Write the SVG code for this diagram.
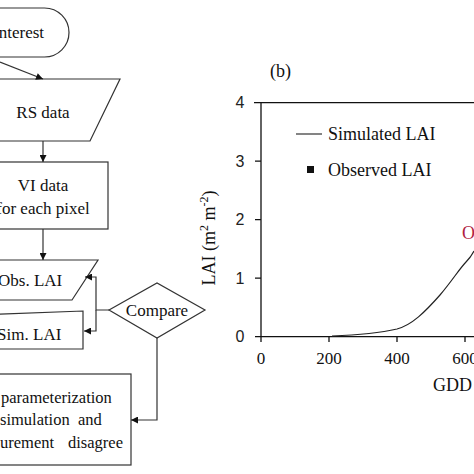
<svg xmlns="http://www.w3.org/2000/svg" width="474" height="474" viewBox="0 0 474 474">
<defs>
<style>
.sh{fill:#fff;stroke:#333;stroke-width:1.2}
.ln{fill:none;stroke:#333;stroke-width:1.2}
.t{font-family:"Liberation Serif","Times New Roman",serif;font-size:17px;fill:#111}
.ax{fill:none;stroke:#111;stroke-width:1.3}
.tk{font-family:"Liberation Sans",Arial,sans-serif;font-size:16px;fill:#222}
</style>
<marker id="ah" viewBox="0 0 10 10" refX="10" refY="5" markerWidth="8" markerHeight="7" markerUnits="userSpaceOnUse" orient="auto">
<path d="M0,0L10,5L0,10z" fill="#111"/>
</marker>
</defs>
<rect width="474" height="474" fill="#fff"/>
<g id="start">
<rect class="sh" x="-60" y="8" width="129" height="49" rx="24.5"/>
<text class="t" x="-6" y="38">interest</text>
</g>
<g id="rs">
<polygon class="sh" points="-60,79 120,79 90,141 -90,141"/>
<text class="t" x="43" y="118" text-anchor="middle">RS data</text>
</g>
<g id="vi">
<rect class="sh" x="-30" y="162" width="138" height="67"/>
<text class="t" x="43" y="191" text-anchor="middle">VI data</text>
<text class="t" x="43" y="214" text-anchor="middle">for each pixel</text>
</g>
<g id="obs">
<polygon class="sh" points="-50,260 98,260 72,300 -80,300"/>
<text class="t" x="-2" y="286">Obs. LAI</text>
</g>
<g id="sim">
<polygon class="sh" points="-50,316 83,311 83,349 -50,349"/>
<text class="t" x="-3" y="340">Sim.</text>
<text class="t" x="33" y="340">LAI</text>
</g>
<g id="compare">
<polygon class="sh" points="109,310 157,283 205,310 157,338"/>
<text class="t" x="157" y="316" text-anchor="middle">Compare</text>
</g>
<g id="repar">
<rect class="sh" x="-30" y="374" width="161" height="91"/>
<text class="t" style="font-size:16.5px" x="1" y="403">parameterization</text>
<text class="t" style="font-size:16.5px" x="0" y="425">simulation</text>
<text class="t" style="font-size:16.5px" x="78" y="425">and</text>
<text class="t" style="font-size:16.5px" x="0" y="448">urement</text>
<text class="t" style="font-size:16.5px" x="68" y="448">disagree</text>
</g>
<g id="connectors">
<line class="ln" x1="0" y1="62" x2="43" y2="79" marker-end="url(#ah)"/>
<line class="ln" x1="43" y1="141" x2="43" y2="162" marker-end="url(#ah)"/>
<line class="ln" x1="43" y1="229" x2="43" y2="260" marker-end="url(#ah)"/>
<polyline class="ln" points="109,310 96,310 96,277 85,277" marker-end="url(#ah)"/>
<polyline class="ln" points="96,310 96,331 84,331" marker-end="url(#ah)"/>
<polyline class="ln" points="157,338 157,420 131,420" marker-end="url(#ah)"/>
</g>
<g id="chart">
<text class="t" x="270" y="77" style="font-size:18px">(b)</text>
<path class="ax" d="M254,102.7H474M261,102.7V342M255,336.7H474M255,161.2H261M255,219.7H261M255,278.2H261M329,336.7V342M397,336.7V342M465,336.7V342"/>
<text class="tk" x="240" y="108" text-anchor="middle">4</text>
<text class="tk" x="240" y="166.5" text-anchor="middle">3</text>
<text class="tk" x="240" y="225" text-anchor="middle">2</text>
<text class="tk" x="240" y="283.5" text-anchor="middle">1</text>
<text class="tk" x="240" y="342" text-anchor="middle">0</text>
<text class="t" x="261" y="364" text-anchor="middle">0</text>
<text class="t" x="329" y="364" text-anchor="middle">200</text>
<text class="t" x="397" y="364" text-anchor="middle">400</text>
<text class="t" x="465" y="364" text-anchor="middle">600</text>
<text class="t" x="433" y="391" style="font-size:18px">GDD</text>
<text class="t" style="font-size:18px" transform="translate(215,238) rotate(-90)" text-anchor="middle">LAI (m<tspan font-size="12" dy="-7">2</tspan><tspan dy="7"> m</tspan><tspan font-size="12" dy="-7">-2</tspan><tspan dy="7">)</tspan></text>
<line x1="296" y1="134" x2="322" y2="134" stroke="#333" stroke-width="1.2"/>
<text class="t" x="328" y="140" style="font-size:18px">Simulated LAI</text>
<rect x="307" y="166" width="7" height="7" fill="#111"/>
<text class="t" x="328" y="176" style="font-size:18px">Observed LAI</text>
<text x="462" y="239" style="font-family:'Liberation Serif',serif;font-size:18px;fill:#b02040">O</text>
<path d="M332,336 C360,335 380,333 397,329 C412,325 425,312 440,295 C452,281 460,268 466,262 C470,258 472,255 474,251" fill="none" stroke="#222" stroke-width="1.2"/>
</g>
</svg>
